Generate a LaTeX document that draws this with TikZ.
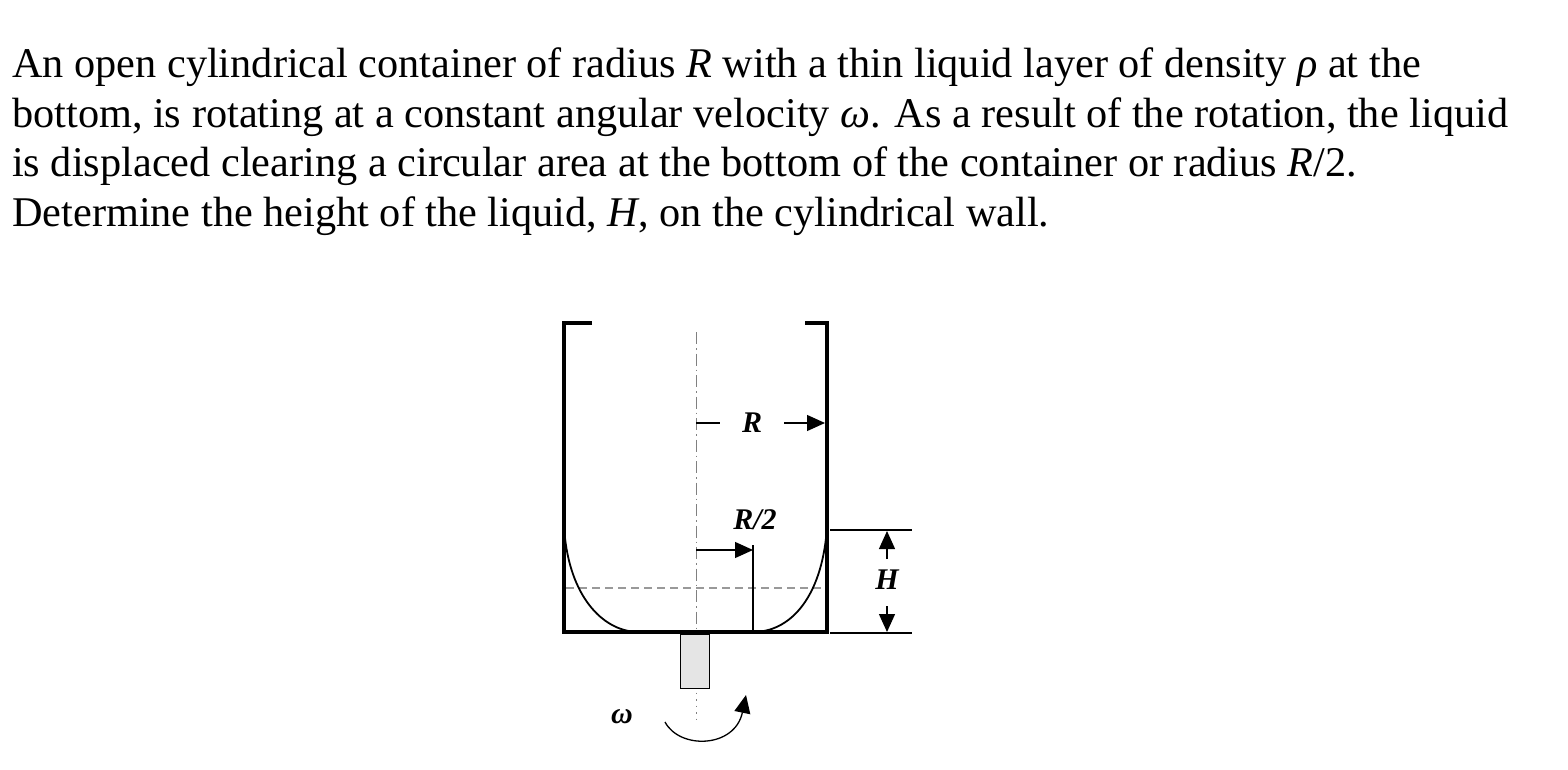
\documentclass[tikz,border=0pt]{standalone}
\usepackage{fontspec}
\setmainfont{Liberation Serif}
\usetikzlibrary{arrows.meta}
\begin{document}
\begin{tikzpicture}[x=1pt,y=-1pt,
  txt/.style={anchor=base west,inner sep=0pt,font=\fontsize{42.3}{42}\selectfont},
  lab/.style={inner sep=0pt,font=\fontsize{30}{30}\selectfont\itshape\bfseries},
  wall/.style={line width=4.5pt},
  thin/.style={line width=1.3pt},
  tip/.style={-{Triangle[length=18pt,width=16pt]}}]
\useasboundingbox (0,0) rectangle (1568,770);
\node[txt] (l1) at (12,78) {An open cylindrical container of radius \textit{R} with a thin liquid layer of density \textit{ρ} at the};
\node[txt] (l2) at (12,128) {bottom, is rotating at a constant angular velocity \textit{ω}. As a result of the rotation, the liquid};
\node[txt] (l3) at (12,177) {is displaced clearing a circular area at the bottom of the container or radius \textit{R}/2.};
\node[txt] (l4) at (12,226) {Determine the height of the liquid, \textit{H}, on the cylindrical wall.};
% liquid level dashed
\draw[gray!80,line width=1.5pt,dash pattern=on 8pt off 5pt] (566,588) -- (825,588);
% curves
\draw[line width=1.8pt] (639,632) .. controls (605,632) and (572,600) .. (565,538);
\draw[line width=1.8pt] (753,632) .. controls (789,632) and (819,600) .. (826,538);
% axis
\draw[gray,line width=1pt,dash pattern=on 12pt off 4pt on 1.5pt off 4pt] (696,332) -- (696,632);
\draw[gray,line width=1pt,dash pattern=on 1.5pt off 5pt] (696,686) -- (696,722);
% container
\draw[wall] (592,323) -- (564,323) -- (564,632) -- (827,632) -- (827,323) -- (805,323);
% shaft
\node[draw,thin,fill=gray!20,minimum width=29pt,minimum height=54pt,inner sep=0pt,anchor=north] (shaft) at (695,634) {};
% R
\coordinate (rwall) at (825,423);
\node[lab] (R) at (752,423) {R};
\draw[thin] (696,423) -- (720,423);
\draw[thin,tip] (784,423) -- (rwall);
% R/2
\node[lab] (R2) at (755,520) {R/2};
\coordinate (r2) at (753,550);
\draw[thin,tip] (696,550) -- (r2);
\draw[thin] (753,545) -- (753,632);
% H
\draw[thin] (830,530) -- (912,530);
\draw[thin] (830,633) -- (912,633);
\node[lab] (H) at (887,580) {H};
\coordinate (Ht) at (887,531);
\coordinate (Hb) at (887,632);
\draw[thin,tip] (887,559) -- (Ht);
\draw[thin,tip] (887,606) -- (Hb);
% omega
\node[lab] (w) at (622,717) {ω};
\coordinate (a1) at (665,722);
\coordinate (a2) at (746,695);
\draw[thin,tip] (a1) .. controls (680,750) and (735,748) .. (a2);
\end{tikzpicture}
\end{document}
